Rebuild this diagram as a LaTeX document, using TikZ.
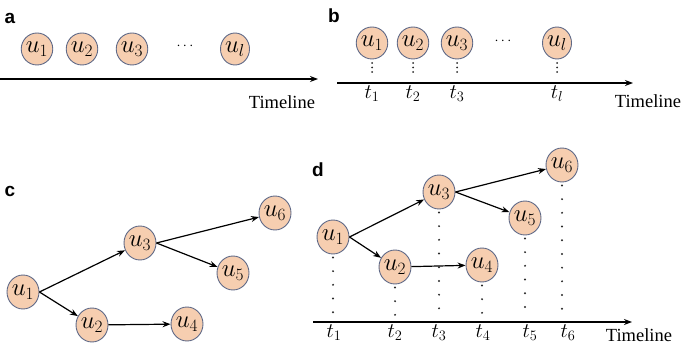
\documentclass[tikz,border=0pt]{standalone}
\usepackage{fontspec}
\setmainfont{Liberation Serif}
\newfontfamily\panelfont{Liberation Sans}
\usepackage{xcolor}
\definecolor{nodefill}{RGB}{246,206,176}
\definecolor{nodeline}{RGB}{95,105,135}
\definecolor{dotcol}{RGB}{40,40,40}
\usepackage{tikz}
\usetikzlibrary{shapes.geometric, arrows.meta, positioning}

\tikzset{
  event/.style={ellipse, draw=nodeline, fill=nodefill, line width=0.9pt, inner sep=0pt},
  evsmall/.style={event, minimum width=29pt, minimum height=32pt,
                  font=\fontsize{23}{26}\selectfont},
  evbig/.style={event, minimum width=32pt, minimum height=34pt,
                font=\fontsize{27}{30}\selectfont},
  link/.style={-{Stealth[length=8pt,width=6pt]}, line width=1.2pt},
  timeaxis/.style={-{Stealth[length=8pt,width=6pt]}, line width=1.4pt},
  panel/.style={font=\panelfont\bfseries\fontsize{19}{22}\selectfont},
  axislabel/.style={font=\fontsize{18.5}{22}\selectfont},
  timelabel/.style={font=\fontsize{22}{25}\selectfont, inner sep=1pt},
  gapdots/.style={font=\bfseries\fontsize{15}{17}\selectfont},
  dotline/.style={dotcol, dash pattern=on 0pt off 13.7pt, line cap=round, line width=2.2pt},
  vdotline/.style={dotcol, dash pattern=on 0pt off 4.5pt, line cap=round, line width=2pt}
}

\begin{document}
\begin{tikzpicture}[x=1pt, y=-1pt]
  \useasboundingbox (0,0) rectangle (685,347);

  % Panel a: unordered sequence of events
  \node[panel] (lbla) at (10,18) {a};
  \foreach \x/\i in {37/1, 82/2, 132/3, 235/l} {
    \node[evsmall] (a\i) at (\x,49) {$u_\i$};
  }
  \node[gapdots] (adots) at (185,46) {$\cdots$};
  \coordinate (astart) at (0,79);
  \coordinate (aend) at (318,79);
  \draw[timeaxis] (astart) -- (aend);
  \node[axislabel] (atime) at (282,102) {Timeline};

  % Panel b: events with time stamps
  \node[panel] (lblb) at (334,16) {b};
  \foreach \x/\i in {372/1, 413/2, 457/3, 557/l} {
    \node[evsmall] (b\i) at (\x,43) {$u_\i$};
    \draw[vdotline] (\x,63) -- (\x,73);
    \node[timelabel] (bt\i) at (\x,94) {$t_\i$};
  }
  \node[gapdots] (bdots) at (503,41) {$\cdots$};
  \coordinate (bstart) at (337,83);
  \coordinate (bend) at (633,83);
  \draw[timeaxis] (bstart) -- (bend);
  \node[axislabel] (btime) at (648,101) {Timeline};

  % Panel c: event graph
  \node[panel] (lblc) at (10,191) {c};
  \foreach \n/\x/\y in {1/23/292, 2/92/325, 3/140/243,
                        4/187/324, 5/233/273, 6/275/213} {
    \node[evbig] (c\n) at (\x,\y) {$u_\n$};
  }
  \draw[link] (c1.east) -- (c3);
  \draw[link] (c1.east) -- (c2);
  \draw[link] (c3.east) -- (c6);
  \draw[link] (c3.east) -- (c5);
  \draw[link] (c2) -- (c4);

  % Panel d: event graph on a timeline
  \node[panel] (lbld) at (318,170) {d};
  \foreach \n/\x/\y in {1/333/237, 2/395/267, 3/439/192,
                        4/482/265, 5/525/218, 6/562/165} {
    \node[evbig] (d\n) at (\x,\y) {$u_\n$};
  }
  \draw[link] (d1.east) -- (d3);
  \draw[link] (d1.east) -- (d2);
  \draw[link] (d3.east) -- (d6);
  \draw[link] (d3.east) -- (d5);
  \draw[link] (d2) -- (d4);

  % dotted drop lines to the timeline
  \coordinate (dbase) at (0,315);
  \foreach \n in {1,...,6} {
    \draw[dotline] ([yshift=-3pt]d\n.south) -- (d\n.south |- dbase);
  }

  \coordinate (dstart) at (313,322);
  \coordinate (dend) at (632,322);
  \draw[timeaxis] (dstart) -- (dend);
  \foreach \x/\i in {334/1, 395/2, 439/3, 483/4, 530/5, 568/6} {
    \node[timelabel] (dt\i) at (\x,333) {$t_\i$};
  }
  \node[axislabel] (dtime) at (639,335) {Timeline};

\end{tikzpicture}
\end{document}
